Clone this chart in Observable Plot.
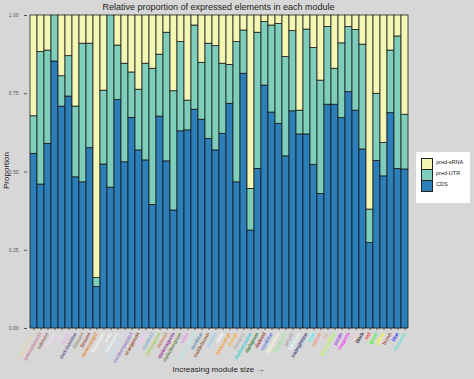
<!DOCTYPE html>
<html><head><meta charset="utf-8">
<script src="https://cdn.jsdelivr.net/npm/d3@7"></script>
<script src="https://cdn.jsdelivr.net/npm/@observablehq/plot@0.6"></script>
<style>
body{margin:0;background:#d7d7d7;font-family:"Liberation Sans",Arial,sans-serif;}
#wrap{position:relative;width:474px;height:379px;overflow:hidden;}
#title{position:absolute;left:27px;width:383px;top:2px;text-align:center;font-size:9px;color:#222;white-space:nowrap;}
#ylab{position:absolute;left:-24px;top:166px;width:60px;text-align:center;font-size:8px;color:#222;transform:rotate(-90deg);}
#xlab{position:absolute;left:27px;width:383px;top:365px;text-align:center;font-size:8px;color:#222;}
#legend{position:absolute;left:416px;top:152px;width:54px;height:51px;background:#fff;}
.key{position:absolute;left:5px;width:10px;height:10px;border:0.7px solid #222;}
.lt{position:absolute;left:20px;font-size:5.5px;color:#222;}
</style></head>
<body><div id="wrap"><div id="chart"></div>
<div id="title">Relative proportion of expressed elements in each module</div>
<div id="ylab">Proportion</div>
<div id="xlab">Increasing module size →</div>
<div id="legend"></div>
</div>
<script>
const modules = ["navajowhite2","palevioletred3","salmon4","thistle1","thistle2","plum2","darkslateblue","bisque4","brown4","darkorange2","floralwhite","ivory","lightcyan1","lightsteelblue1","mediumpurple3","orangered4","plum1","skyblue3","yellowgreen","sienna3","darkmagenta","darkolivegreen","violet","paleturquoise","steelblue","saddlebrown","skyblue","white","darkorange","orange","darkgrey","darkturquoise","darkgreen","darkred","royalblue","lightyellow","lightgreen","grey60","lightcyan","midnightblue","cyan","salmon","tan","greenyellow","purple","magenta","pink","black","red","green","yellow","brown","blue","turquoise"];
const cds = [.558,.46,.59,.853,.709,.741,.483,.467,.576,.132,.524,.45,.73,.531,.673,.569,.537,.395,.677,.534,.377,.63,.633,.699,.667,.606,.569,.622,.718,.467,.814,.313,.51,.776,.69,.654,.55,.694,.62,.62,.523,.43,.715,.715,.672,.755,.696,.572,.273,.535,.486,.688,.51,.508];
const utr = [.120,.423,.298,.147,.097,.129,.226,.443,.334,.029,.236,.55,.174,.315,.145,.194,.309,.435,.198,.411,.381,.285,.095,.269,.182,.304,.333,.224,.124,.448,.138,.133,.435,.203,.278,.319,.317,.256,.076,.335,.373,.362,.248,.115,.239,.208,.258,.335,.107,.215,.107,.2,.423,.175];
const srna = [.322,.117,.112,0,.194,.13,.291,.09,.09,.839,.24,0,.096,.154,.182,.237,.154,.17,.125,.055,.242,.085,.272,.032,.151,.09,.098,.154,.158,.085,.048,.554,.055,.021,.032,.027,.133,.05,.304,.045,.104,.208,.037,.17,.089,.037,.046,.093,.62,.25,.407,.112,.067,.317];
const seriesNames = ["CDS","pred-UTR","pred-sRNA"];
const seriesColors = ["#2c7fb8","#7fcdbb","#f4f6b4"];
const labelColors = {navajowhite2:"#EECFA1",palevioletred3:"#CD6889",salmon4:"#8B4C39",thistle1:"#FFE1FF",thistle2:"#EED2EE",plum2:"#EEAEEE",darkslateblue:"#483D8B",bisque4:"#8B7D6B",brown4:"#8B2323",darkorange2:"#EE7600",floralwhite:"#FFFAF0",ivory:"#FFFFF0",lightcyan1:"#E0FFFF",lightsteelblue1:"#CAE1FF",mediumpurple3:"#8968CD",orangered4:"#8B2500",plum1:"#FFBBFF",skyblue3:"#6CA6CD",yellowgreen:"#9ACD32",sienna3:"#CD6839",darkmagenta:"#8B008B",darkolivegreen:"#556B2F",violet:"#EE82EE",paleturquoise:"#AFEEEE",steelblue:"#4682B4",saddlebrown:"#8B4513",skyblue:"#87CEEB",white:"#FFFFFF",darkorange:"#FF8C00",orange:"#FFA500",darkgrey:"#A9A9A9",darkturquoise:"#00CED1",darkgreen:"#006400",darkred:"#8B0000",royalblue:"#4169E1",lightyellow:"#FFFFE0",lightgreen:"#90EE90",grey60:"#999999",lightcyan:"#E0FFFF",midnightblue:"#191970",cyan:"#00FFFF",salmon:"#FA8072",tan:"#D2B48C",greenyellow:"#ADFF2F",purple:"#A020F0",magenta:"#FF00FF",pink:"#FFC0CB",black:"#000000",red:"#FF0000",green:"#00FF00",yellow:"#FFFF00",brown:"#A52A2A",blue:"#0000FF",turquoise:"#40E0D0"};

const rows = [];
modules.forEach((m,i)=>{
  [cds[i],utr[i],srna[i]].forEach((v,j)=>rows.push({module:m,series:seriesNames[j],value:v}));
});
const colorOf = s => seriesColors[seriesNames.indexOf(s)];

const plot = Plot.plot({
  width:474, height:379,
  marginLeft:27, marginRight:64, marginTop:15, marginBottom:51,
  style:{background:"transparent", fontFamily:"Liberation Sans, Arial, sans-serif", color:"#555"},
  x:{domain:modules, padding:0, label:null, tickFormat:()=>"", tickSize:2},
  y:{domain:[0,1], ticks:[0,0.25,0.5,0.75,1], tickFormat:d3.format(".2f"), tickSize:3, label:null},
  color:{type:"identity"},
  marks:[
    Plot.barY(rows,{x:"module", y:"value", fill:d=>colorOf(d.series), stroke:"#141414", strokeWidth:0.75}),
    Plot.text(modules,{x:d=>d, frameAnchor:"bottom", text:d=>d, fill:d=>labelColors[d], rotate:-60, textAnchor:"end", dy:5, dx:1, fontSize:5})
  ]
});
plot.querySelectorAll("g[aria-label='y-axis tick label'] text, g[aria-label='y-axis'] text").forEach(t=>t.setAttribute("font-size","5"));
document.getElementById("chart").appendChild(plot);

const lg = document.getElementById("legend");
[...seriesNames].reverse().forEach((s,k)=>{
  const key=document.createElement("div"); key.className="key"; key.style.top=(6+k*11)+"px"; key.style.background=colorOf(s); lg.appendChild(key);
  const t=document.createElement("div"); t.className="lt"; t.style.top=(7+k*11)+"px"; t.textContent=s; lg.appendChild(t);
});
</script></body></html>
